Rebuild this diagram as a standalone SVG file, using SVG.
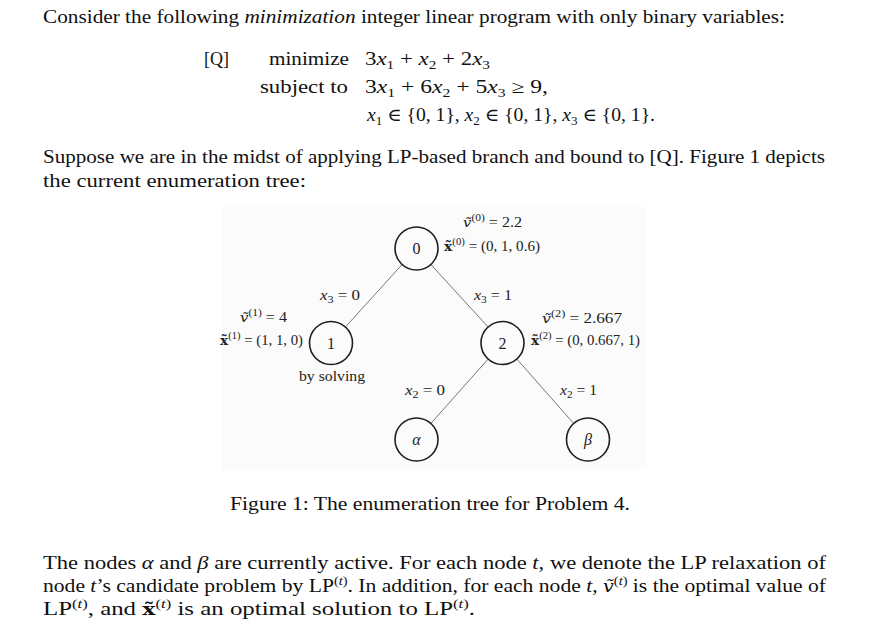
<svg xmlns="http://www.w3.org/2000/svg" width="884" height="629" viewBox="0 0 884 629">
<style>
.t{font-family:"Liberation Serif","DejaVu Serif",serif;font-size:18px;fill:#111}
.i{font-style:italic}
.f{font-family:"Liberation Serif","DejaVu Serif",serif;font-size:14px;fill:#222}
.b{font-weight:bold}
.dv{font-family:"DejaVu Serif",serif}
.nd{fill:none;stroke:#1e1e1e;stroke-width:1.6}
.nl{font-family:"Liberation Serif","DejaVu Serif",serif;font-size:16px;fill:#222;text-anchor:middle}
.e{stroke:#777;stroke-width:1;fill:none}
</style>
<rect width="884" height="629" fill="#ffffff"/>
<text class="t" x="43" y="23" textLength="742" lengthAdjust="spacingAndGlyphs">Consider the following <tspan class="i">minimization</tspan> integer linear program with only binary variables:</text>
<text class="t" x="204" y="65">[Q]</text>
<text class="t" x="269" y="65" textLength="80" lengthAdjust="spacingAndGlyphs">minimize</text>
<text class="t" x="260" y="93" textLength="88" lengthAdjust="spacingAndGlyphs">subject to</text>
<text class="t" x="365" y="65" textLength="125" lengthAdjust="spacingAndGlyphs">3<tspan class="i">x</tspan><tspan font-size="12" dy="4">1</tspan><tspan dy="-4"> + </tspan><tspan class="i">x</tspan><tspan font-size="12" dy="4">2</tspan><tspan dy="-4"> + 2</tspan><tspan class="i">x</tspan><tspan font-size="12" dy="4">3</tspan></text>
<text class="t" x="365" y="93" textLength="183" lengthAdjust="spacingAndGlyphs">3<tspan class="i">x</tspan><tspan font-size="12" dy="4">1</tspan><tspan dy="-4"> + 6</tspan><tspan class="i">x</tspan><tspan font-size="12" dy="4">2</tspan><tspan dy="-4"> + 5</tspan><tspan class="i">x</tspan><tspan font-size="12" dy="4">3</tspan><tspan dy="-4"> ≥ 9,</tspan></text>
<text class="t" x="367" y="121" textLength="288" lengthAdjust="spacingAndGlyphs"><tspan class="i">x</tspan><tspan font-size="12" dy="4">1</tspan><tspan dy="-4"> ∈ {0, 1}, </tspan><tspan class="i">x</tspan><tspan font-size="12" dy="4">2</tspan><tspan dy="-4"> ∈ {0, 1}, </tspan><tspan class="i">x</tspan><tspan font-size="12" dy="4">3</tspan><tspan dy="-4"> ∈ {0, 1}.</tspan></text>
<text class="t" x="43" y="163" textLength="782" lengthAdjust="spacingAndGlyphs">Suppose we are in the midst of applying LP-based branch and bound to [Q]. Figure 1 depicts</text>
<text class="t" x="43" y="187" textLength="263" lengthAdjust="spacingAndGlyphs">the current enumeration tree:</text>

<g id="figure">
<rect x="222" y="207" width="425" height="262" fill="#fbfbfb"/>
<g id="connectors">
<line class="e" x1="402.1" y1="264.5" x2="345.4" y2="327"/>
<line class="e" x1="430.9" y1="264.5" x2="488.1" y2="327"/>
<line class="e" x1="488.2" y1="359" x2="430.8" y2="423.5"/>
<line class="e" x1="516.8" y1="359" x2="573.7" y2="423.5"/>
<text class="f" x="320" y="300" textLength="40" lengthAdjust="spacingAndGlyphs"><tspan class="i">x</tspan><tspan font-size="10" dy="3">3</tspan><tspan dy="-3"> = 0</tspan></text>
<text class="f" x="474" y="300" textLength="38" lengthAdjust="spacingAndGlyphs"><tspan class="i">x</tspan><tspan font-size="10" dy="3">3</tspan><tspan dy="-3"> = 1</tspan></text>
<text class="f" x="405" y="395" textLength="40" lengthAdjust="spacingAndGlyphs"><tspan class="i">x</tspan><tspan font-size="10" dy="3">2</tspan><tspan dy="-3"> = 0</tspan></text>
<text class="f" x="560" y="395" textLength="37" lengthAdjust="spacingAndGlyphs"><tspan class="i">x</tspan><tspan font-size="10" dy="3">2</tspan><tspan dy="-3"> = 1</tspan></text>
</g>
<g id="node0">
<circle class="nd" cx="416.5" cy="248.5" r="21.5"/>
<text class="nl" x="416.5" y="254">0</text>
<text class="f" x="463" y="227" textLength="59" lengthAdjust="spacingAndGlyphs"><tspan class="i dv" font-size="13">ṽ</tspan><tspan font-size="10" dy="-6">(0)</tspan><tspan dy="6"> = 2.2</tspan></text>
<text class="f" x="444" y="251" textLength="96" lengthAdjust="spacingAndGlyphs"><tspan class="b dv" font-size="13">x̃</tspan><tspan font-size="10" dy="-6">(0)</tspan><tspan dy="6"> = (0, 1, 0.6)</tspan></text>
</g>
<g id="node1">
<circle class="nd" cx="331" cy="343" r="21.5"/>
<text class="nl" x="331" y="348.5">1</text>
<text class="f" x="240" y="322" textLength="47" lengthAdjust="spacingAndGlyphs"><tspan class="i dv" font-size="13">ṽ</tspan><tspan font-size="10" dy="-6">(1)</tspan><tspan dy="6"> = 4</tspan></text>
<text class="f" x="220" y="345" textLength="83" lengthAdjust="spacingAndGlyphs"><tspan class="b dv" font-size="13">x̃</tspan><tspan font-size="10" dy="-6">(1)</tspan><tspan dy="6"> = (1, 1, 0)</tspan></text>
<text class="f" x="299" y="381" font-size="16" textLength="66" lengthAdjust="spacingAndGlyphs">by solving</text>
</g>
<g id="node2">
<circle class="nd" cx="502.5" cy="343" r="21.5"/>
<text class="nl" x="502.5" y="348.5">2</text>
<text class="f" x="542" y="323" textLength="80" lengthAdjust="spacingAndGlyphs"><tspan class="i dv" font-size="13">ṽ</tspan><tspan font-size="10" dy="-6">(2)</tspan><tspan dy="6"> = 2.667</tspan></text>
<text class="f" x="531" y="345" textLength="109" lengthAdjust="spacingAndGlyphs"><tspan class="b dv" font-size="13">x̃</tspan><tspan font-size="10" dy="-6">(2)</tspan><tspan dy="6"> = (0, 0.667, 1)</tspan></text>
</g>
<g id="nodeAlpha">
<circle class="nd" cx="416.5" cy="439.5" r="21.5"/>
<text class="nl i" x="416.5" y="444.5">α</text>
</g>
<g id="nodeBeta">
<circle class="nd" cx="588" cy="439.5" r="21.5"/>
<text class="nl i" x="588" y="445">β</text>
</g>
</g>

<text class="t" x="230" y="510" textLength="400" lengthAdjust="spacingAndGlyphs">Figure 1: The enumeration tree for Problem 4.</text>
<text class="t" x="43" y="569" textLength="783" lengthAdjust="spacingAndGlyphs">The nodes <tspan class="i">α</tspan> and <tspan class="i">β</tspan> are currently active. For each node <tspan class="i">t</tspan>, we denote the LP relaxation of</text>
<text class="t" x="43" y="592" textLength="783" lengthAdjust="spacingAndGlyphs">node <tspan class="i">t</tspan>’s candidate problem by LP<tspan font-size="12" dy="-7">(<tspan class="i">t</tspan>)</tspan><tspan dy="7">. In addition, for each node </tspan><tspan class="i">t</tspan>, <tspan class="i dv" font-size="16">ṽ</tspan><tspan font-size="12" dy="-7">(<tspan class="i">t</tspan>)</tspan><tspan dy="7"> is the optimal value of</tspan></text>
<text class="t" x="43" y="615" textLength="432" lengthAdjust="spacingAndGlyphs">LP<tspan font-size="12" dy="-7">(<tspan class="i">t</tspan>)</tspan><tspan dy="7">, and </tspan><tspan class="b dv" font-size="16">x̃</tspan><tspan font-size="12" dy="-7">(<tspan class="i">t</tspan>)</tspan><tspan dy="7"> is an optimal solution to LP</tspan><tspan font-size="12" dy="-7">(<tspan class="i">t</tspan>)</tspan><tspan dy="7">.</tspan></text>
</svg>
